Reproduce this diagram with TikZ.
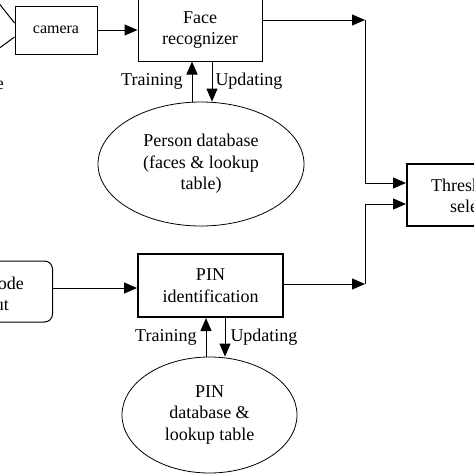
\documentclass[tikz,border=0pt]{standalone}
\usepackage{fontspec}
\setmainfont{Liberation Serif}
\usetikzlibrary{arrows.meta,shapes.geometric,positioning}

\begin{document}
\begin{tikzpicture}[x=1pt,y=-1pt,
  font=\fontsize{18}{21.5}\selectfont,
  box/.style={draw,line width=1pt,align=center,inner sep=0pt},
  dbase/.style={draw,ellipse,line width=0.8pt,align=center,inner sep=0pt},
  arr/.style={line width=1pt,-{Triangle[length=13pt,width=11pt]}},
  lbl/.style={inner sep=1pt}]
\useasboundingbox (0,0) rectangle (474,474);

% Blocks
\node[box,minimum width=82pt,minimum height=48pt,font=\fontsize{16}{19}\selectfont] (camera) at (56,30) {camera};
\node[box,minimum width=124pt,minimum height=62pt] (face) at (200,30) {Face\\recognizer};
\node[dbase,minimum width=206pt,minimum height=124pt] (persondb) at (201,164) {Person database\\(faces \& lookup\\table)};
\node[box,line width=2pt,minimum width=145pt,minimum height=63pt] (pin) at (210.5,285.5) {PIN\\identification};
\node[dbase,minimum width=175pt,minimum height=116pt] (pindb) at (209.5,415) {PIN\\database \&\\lookup table};
\node[box,rounded corners=8pt,minimum width=100pt,minimum height=61pt,anchor=east] (code) at (53,291.5) {};
\node[box,line width=1.8pt,minimum width=120pt,minimum height=62pt,anchor=west] (thresh) at (406,195) {};

% Cut-off texts at the edges
\node[inner sep=0pt,anchor=base east] (camlabel) at (4,89) {e};
\node[inner sep=0pt,anchor=base east] (codetop) at (24,289) {ode};
\node[inner sep=0pt,anchor=base east] (codebot) at (9,310) {ut};
\node[inner sep=0pt,anchor=base west] (threshtop) at (431,191) {Thresh};
\node[inner sep=0pt,anchor=base west] (threshbot) at (450,212) {sele};

% Camera lens
\draw[line width=1pt] ([yshift=7pt]camera.west) -- ++(-20,-25.3);
\draw[line width=1pt] ([yshift=-7pt]camera.west) -- ++(-20,14.7);

% Inputs
\draw[arr] (camera.east) -- (camera.east -| face.west);
\draw[arr] ([yshift=3.5pt]code.east) -- ([yshift=3.5pt]code.east -| pin.west);

% Training and updating
\draw[arr] ([xshift=-8pt]face.south |- persondb.north) -- node[lbl,left=8pt] {Training} ([xshift=-8pt]face.south);
\draw[arr] ([xshift=12pt]face.south) -- node[lbl,right=2pt] {Updating} ([xshift=12pt]face.south |- persondb.north);
\draw[arr] ([xshift=-4.5pt]pin.south |- pindb.north) -- node[lbl,left=8pt] {Training} ([xshift=-4.5pt]pin.south);
\draw[arr] ([xshift=14.5pt]pin.south) -- node[lbl,right=4pt] {Updating} ([xshift=14.5pt]pin.south |- pindb.north);

% Outputs to threshold
\coordinate (bus) at (365,0);
\draw[arr] ([yshift=10pt]face.east) -- ([yshift=10pt]face.east -| bus);
\draw[arr] ([yshift=10pt]face.east -| bus) |- ([yshift=12pt]thresh.west);
\draw[arr] ([yshift=1.5pt]pin.east) -- ([yshift=1.5pt]pin.east -| bus);
\draw[arr] ([yshift=1.5pt]pin.east -| bus) |- ([yshift=-9pt]thresh.west);
\end{tikzpicture}
\end{document}
